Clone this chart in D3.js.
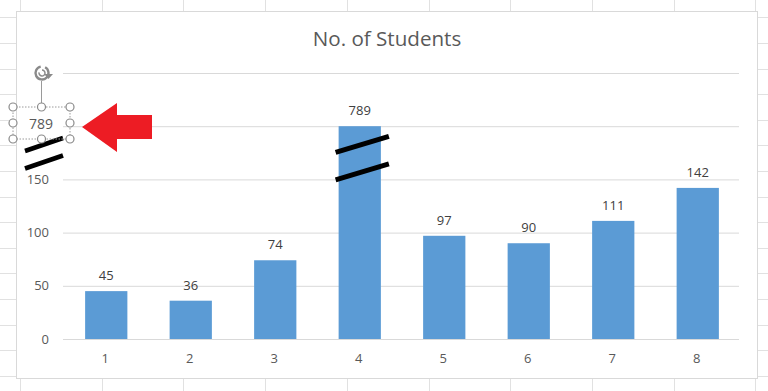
<!DOCTYPE html>
<html>
<head>
<meta charset="utf-8">
<script src="https://cdn.jsdelivr.net/npm/d3@7"></script>
<style>
  body { margin: 0; background: #fff; }
  svg { display: block; font-family: 'Open Sans', sans-serif; }
</style>
</head>
<body>
<svg width="768" height="391"></svg>
<script>
const width = 768;
const height = 391;

const categories = ['1', '2', '3', '4', '5', '6', '7', '8'];
const students = [45, 36, 74, 789, 97, 90, 111, 142];
const gridTicks = [0, 50, 100, 150, 200, 250];
const shownTicks = [0, 50, 100, 150];
const brokenCap = 200;   // the tall bar is cut off here
const brokenLabel = '789';

const svg = d3.select('svg');

// spreadsheet cells behind the chart
const cells = svg.append('g').attr('stroke', '#e1e1e1').attr('stroke-width', 1);
d3.range(0, 10).forEach(i => {
  const x = Math.round(20 + i * 81.7) + 0.5;
  cells.append('line').attr('x1', x).attr('x2', x).attr('y1', 0).attr('y2', height);
});
d3.range(0, 15).forEach(i => {
  const y = Math.round(17.3 + i * 25.6) + 0.5;
  cells.append('line').attr('x1', 0).attr('x2', width).attr('y1', y).attr('y2', y);
});

// chart area
svg.append('rect')
  .attr('x', 16.5).attr('y', 11.5)
  .attr('width', 741).attr('height', 367)
  .attr('fill', '#fff')
  .attr('stroke', '#d9d9d9');

svg.append('text')
  .attr('x', 387).attr('y', 46)
  .attr('text-anchor', 'middle')
  .attr('font-size', 20.6)
  .attr('fill', '#595959')
  .text('No. of Students');

const xScale = d3.scaleBand()
  .domain(categories)
  .range([63, 739])
  .paddingInner(0.5)
  .paddingOuter(0.25);

const yScale = d3.scaleLinear()
  .domain([0, 250])
  .range([339, 73]);

// gridlines + y labels
const yAxis = svg.append('g')
  .attr('transform', 'translate(63,0)')
  .call(d3.axisLeft(yScale)
    .tickValues(gridTicks)
    .tickSize(-676)
    .tickPadding(14)
    .tickFormat(d => shownTicks.includes(d) ? d : ''));
yAxis.select('.domain').remove();
yAxis.selectAll('line').attr('stroke', '#d9d9d9');
yAxis.selectAll('text').attr('fill', '#595959').attr('font-size', 13)
  .attr('font-family', 'Open Sans, sans-serif');

const xAxis = svg.append('g')
  .attr('transform', 'translate(0,339)')
  .call(d3.axisBottom(xScale).tickSize(0).tickPadding(15));
xAxis.select('.domain').remove();
xAxis.selectAll('text').attr('fill', '#595959').attr('font-size', 13)
  .attr('font-family', 'Open Sans, sans-serif');

const shown = v => Math.min(v, brokenCap);

svg.append('g').selectAll('rect')
  .data(students)
  .join('rect')
  .attr('x', (d, i) => xScale(categories[i]) + 1)
  .attr('y', d => yScale(shown(d)))
  .attr('width', xScale.bandwidth())
  .attr('height', d => yScale(0) - yScale(shown(d)))
  .attr('fill', '#5b9bd5');

svg.append('g').selectAll('text')
  .data(students)
  .join('text')
  .attr('x', (d, i) => xScale(categories[i]) + xScale.bandwidth() / 2 + 1)
  .attr('y', d => yScale(shown(d)) - 11)
  .attr('text-anchor', 'middle')
  .attr('font-size', 13)
  .attr('fill', '#404040')
  .text(d => d);

// break marks on the tall bar
const bi = students.findIndex(d => d > brokenCap);
const bx = xScale(categories[bi]) + 1;
const bw = xScale.bandwidth();
[183, 157].forEach(v => {
  const cy = yScale(v);
  svg.append('line')
    .attr('x1', bx - 3).attr('y1', cy + 8)
    .attr('x2', bx + bw + 8).attr('y2', cy - 8)
    .attr('stroke', '#000').attr('stroke-width', 5);
});

// break marks on the axis
[144.5, 162].forEach(cy => {
  svg.append('line')
    .attr('x1', 25).attr('y1', cy + 6.5)
    .attr('x2', 63).attr('y2', cy - 6.5)
    .attr('stroke', '#000').attr('stroke-width', 4.5);
});

// selected text box with the replaced label
const box = svg.append('g');
box.append('rect')
  .attr('x', 13).attr('y', 107).attr('width', 57).attr('height', 32)
  .attr('fill', 'none').attr('stroke', '#9a9a9a')
  .attr('stroke-dasharray', '1.5,1.5');
box.append('line')
  .attr('x1', 41.5).attr('x2', 41.5).attr('y1', 81).attr('y2', 103)
  .attr('stroke', '#9a9a9a');
box.append('text')
  .attr('x', 41).attr('y', 129)
  .attr('text-anchor', 'middle')
  .attr('font-size', 14)
  .attr('fill', '#595959')
  .text(brokenLabel);
const handles = [[13, 107], [41.5, 107], [70, 107], [13, 123], [70, 123], [13, 139], [41.5, 139], [70, 139]];
box.selectAll('circle')
  .data(handles)
  .join('circle')
  .attr('cx', d => d[0]).attr('cy', d => d[1]).attr('r', 4)
  .attr('fill', '#fff').attr('stroke', '#8a8a8a').attr('stroke-width', 1.2);

// rotate handle
const rot = box.append('g').attr('transform', 'translate(42,73)');
rot.append('path')
  .attr('d', d3.arc()({ innerRadius: 6.5, outerRadius: 6.5, startAngle: 0.5, endAngle: 2 * Math.PI - 0.2 }))
  .attr('fill', 'none').attr('stroke', '#8a8a8a').attr('stroke-width', 2.4);
rot.append('path')
  .attr('d', d3.arc()({ innerRadius: 3, outerRadius: 3, startAngle: 0, endAngle: 2 * Math.PI - 1.4 }))
  .attr('fill', 'none').attr('stroke', '#8a8a8a').attr('stroke-width', 1.5);
rot.append('path')
  .attr('d', 'M2,1 L11,1 L6.5,6 Z')
  .attr('fill', '#8a8a8a');
</script>
<script>
// red arrow pointing at the text box
d3.select('svg').append('path')
  .attr('d', 'M82,127 L117,103 L117,115 L152,115 L152,139 L117,139 L117,152 Z')
  .attr('fill', '#ed1c24');
</script>
</body>
</html>
